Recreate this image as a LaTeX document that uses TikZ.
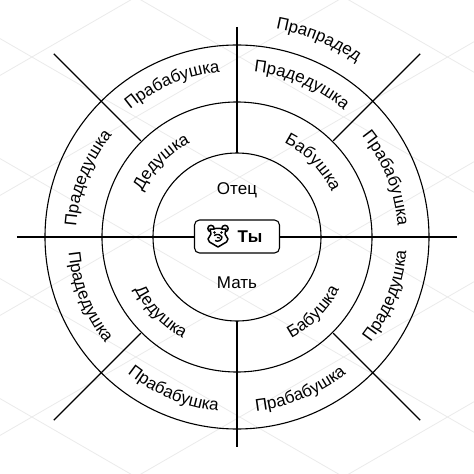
\documentclass[tikz,border=0pt]{standalone}
\usepackage{fontspec}
\setmainfont{Liberation Sans}
\usetikzlibrary{decorations.text}
\tikzset{
  x=1pt,y=1pt,
  ring/.style={draw=black,line width=1.1pt},
  spoke/.style={draw=black,line width=1.1pt},
  wm/.style={draw=black!8,line width=.8pt},
  lab/.style={font=\fontsize{17}{17}\selectfont,text=black},
  youbox/.style={draw=black,line width=1.1pt,fill=white,rounded corners=5pt,minimum width=85pt,minimum height=33pt,inner sep=0pt}
}
\newcommand{\cwlabel}[4]{\path[decorate,decoration={text along path,text align=center,text={|\fontsize{17}{17}\selectfont|#4}}] (#1+#2:#3) arc[start angle=#1+#2,end angle=#1-#2,radius=#3];}
\newcommand{\ccwlabel}[4]{\path[decorate,decoration={text along path,text align=center,text={|\fontsize{17}{17}\selectfont|#4}}] (#1-#2:#3) arc[start angle=#1-#2,end angle=#1+#2,radius=#3];}
\begin{document}
\begin{tikzpicture}
\useasboundingbox (-237,-237) rectangle (237,237);
\fill[white] (-237,-237) rectangle (237,237);
\begin{scope}
\clip (-237,-237) rectangle (237,237);
\foreach \k in {-5,...,0}{
  \draw[wm] (-238,{161+120*\k}) -- ++(476,{476*0.5774});
}
\foreach \k in {-3,...,2}{
  \draw[wm] (-238,{199+120*\k}) -- ++(476,{-476*0.5774});
}
\end{scope}
\coordinate (c) at (0,0);
\draw[ring] (c) circle[radius=192];
\draw[ring] (c) circle[radius=135];
\draw[ring] (c) circle[radius=84];
\coordinate (hl) at (-220,0); \coordinate (hr) at (220,0);
\coordinate (vt) at (0,210); \coordinate (vb) at (0,-210);
\coordinate (vti) at (0,84); \coordinate (vbi) at (0,-84);
\draw[spoke] (hl) -- (hr);
\draw[spoke] (vt) -- (vti);
\draw[spoke] (vbi) -- (vb);
\foreach \a in {45,135,225,315}{
  \draw[spoke] (\a:136) -- (\a:259);
}
\node[youbox] (you) at (0,0.5) {};
\node[font=\fontsize{17}{17}\selectfont\bfseries,inner sep=0pt] (ty) at (13,0.5) {Ты};
\node[lab] (father) at (0,47) {Отец};
\node[lab] (mother) at (0,-46) {Мать};
% bear
\begin{scope}[shift={(-19,1)},line join=round]
\draw[line width=1.5pt,fill=white] (-7,7.5) circle[radius=3.2];
\draw[line width=1.5pt,fill=white] (7,7.5) circle[radius=3.2];
\draw[line width=1.5pt,fill=white] (-8,7) -- (-4,7) .. controls (-2,8) and (2,8) .. (4,7) -- (8,7) -- (7,2) -- (10,-3) -- (8.5,-6) -- (0,-11) -- (-8.5,-6) -- (-10,-3) -- (-7,2) -- cycle;
\fill (-3.5,3.5) circle[radius=1.4];
\fill (3.5,3.5) circle[radius=1.4];
\draw[line width=1.4pt] (-4,0.5) .. controls (0,2.5) and (3,1.5) .. (4,-1) .. controls (4,-4) and (0,-6.5) .. (-3,-4.5);
\draw[line width=1.2pt] (-1,-1.5) -- (2,-2);
\end{scope}
\cwlabel{67.5}{25}{212}{Прапрадед}
\cwlabel{67}{28}{166}{Прадедушка}
\cwlabel{21.5}{28}{161}{Прабабушка}
\cwlabel{44.5}{30}{105}{Бабушка}
\cwlabel{113}{28}{166}{Прабабушка}
\cwlabel{158.5}{28}{161}{Прадедушка}
\cwlabel{135.5}{30}{105}{Дедушка}
\ccwlabel{-21.5}{28}{170}{Прадедушка}
\ccwlabel{-67.5}{28}{175}{Прабабушка}
\ccwlabel{-44.5}{30}{115}{Бабушка}
\ccwlabel{-112.5}{28}{175}{Прабабушка}
\ccwlabel{-158}{28}{169}{Прадедушка}
\ccwlabel{-135.5}{30}{115}{Дедушка}
\end{tikzpicture}
\end{document}
